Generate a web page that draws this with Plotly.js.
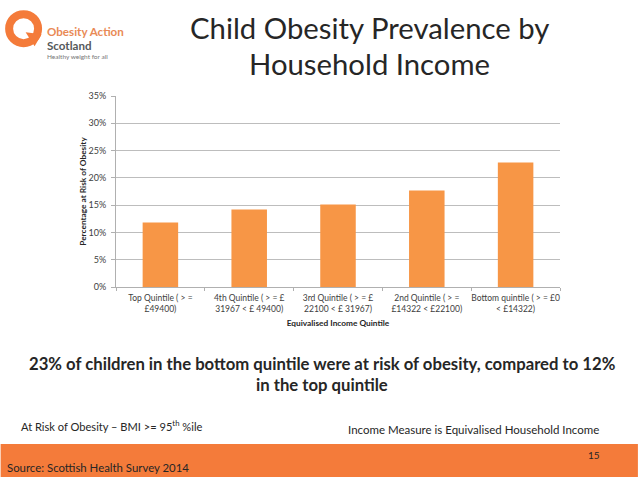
<!DOCTYPE html>
<html><head><meta charset="utf-8">
<script src="https://cdn.plot.ly/plotly-3.0.1.min.js"></script>
<style>html,body{margin:0;padding:0;background:#fff;overflow:hidden}</style>
</head><body><div id="chart" style="width:638px;height:478px"></div>
<script>
const categories = ["Top Quintile ( > =<br>£49400)", "4th Quintile ( > = £<br>31967 < £ 49400)", "3rd Quintile ( > = £<br>22100 < £ 31967)", "2nd Quintile ( > =<br>£14322 < £22100)", "Bottom quintile ( > = £0<br>< £14322)"];
const values = [11.8, 14.2, 15.1, 17.7, 22.8];
const yTicks = [0, 5, 10, 15, 20, 25, 30, 35];
const yTickLabels = ["0%", "5%", "10%", "15%", "20%", "25%", "30%", "35%"];
const FONT = "Lato, Carlito, sans-serif";
const W = 638, H = 478, L = 115.5, R = 560, T = 96, B = 287.5;
const px = x => (x - L) / (R - L);
const py = y => (B - y) / (B - T);
function note(x, y, text, size, color, anchor, bold) {
  return {xref:'paper', yref:'paper', x:px(x), y:py(y), text: bold ? '<b>'+text+'</b>' : text, showarrow:false,
    xanchor:anchor||'center', yanchor:'middle', align:anchor||'center', borderpad:0, borderwidth:0,
    font:{family:FONT, size:size, color:color}};
}
function rectShape(type, x0, y0, x1, y1, fill, line, lw) {
  return {type:type, xref:'paper', yref:'paper', x0:px(x0), x1:px(x1), y0:py(y0), y1:py(y1),
    fillcolor:fill, line:{color:line||fill, width:lw||0}, layer:'above'};
}
const orange = '#F47B3A';
const layout = {
  width:W, height:H, paper_bgcolor:'#fff', plot_bgcolor:'#fff', showlegend:false,
  margin:{l:L, r:W-R, t:T, b:H-B, pad:0},
  bargap:0.6,
  font:{family:FONT, color:'#404040'},
  xaxis:{type:'category', tickmode:'array', tickvals:categories, ticktext:categories, tickson:'boundaries',
    ticks:'outside', ticklen:3, tickcolor:'#b0b0b0', showline:true, linecolor:'#b0b0b0', linewidth:1,
    showgrid:false, tickfont:{family:FONT, size:8.5, color:'#404040'}, ticklabelstandoff:3,
    tickangle:0,
    title:{text:'<b>Equivalised Income Quintile</b>', font:{family:FONT, size:8.3, color:'#262626'}, standoff:6}},
  yaxis:{range:[0,35], tickmode:'array', tickvals:yTicks, ticktext:yTickLabels,
    ticks:'outside', ticklen:4, tickcolor:'#b0b0b0', showline:true, linecolor:'#b0b0b0', linewidth:1,
    gridcolor:'#bdbdbd', gridwidth:1, zeroline:false,
    tickfont:{family:FONT, size:9, color:'#404040'}, ticklabelstandoff:3,
    title:{text:'<b>Percentage at Risk of Obesity</b>', font:{family:FONT, size:8.3, color:'#262626'}, standoff:0}},
  shapes:[
    rectShape('rect', 0, 445, W, 478, orange),
    rectShape('circle', 8.5, 14, 37.5, 43, 'rgba(0,0,0,0)', orange, 8),
    {type:'path', xref:'paper', yref:'paper', layer:'above', fillcolor:orange, line:{width:0},
      path:`M ${px(25)} ${py(32)} L ${px(41)} ${py(34)} L ${px(34)} ${py(46)} Z`}
  ],
  annotations:[
    note(369, 27.5, 'Child Obesity Prevalence by', 29.3, '#262626'),
    note(369, 63.5, 'Household Income', 29.3, '#262626'),
    note(46, 31, 'Obesity Action', 11.6, '#E98A55', 'left', true),
    note(46, 45, 'Scotland', 11.6, '#55585a', 'left', true),
    note(46, 56, 'Healthy weight for all', 6.5, '#777', 'left'),
    note(322, 365, '23% of children in the bottom quintile were at risk of obesity, compared to 12%', 16.7, '#262626', 'center', true),
    note(322, 385.5, 'in the top quintile', 16.7, '#262626', 'center', true),
    note(20.5, 426, 'At Risk of Obesity – BMI >= 95<sup>th</sup> %ile', 11.1, '#262626', 'left'),
    note(348, 430, 'Income Measure is Equivalised Household Income', 11.5, '#262626', 'left'),
    note(600, 456, '15', 10, '#262626', 'right'),
    note(6, 468, 'Source: Scottish Health Survey 2014', 11.4, '#262626', 'left')
  ]
};
Plotly.newPlot('chart', [{type:'bar', x:categories, y:values, marker:{color:'#F79646', line:{width:0}}, hoverinfo:'skip'}], layout, {displayModeBar:false, staticPlot:true});
</script></body></html>
